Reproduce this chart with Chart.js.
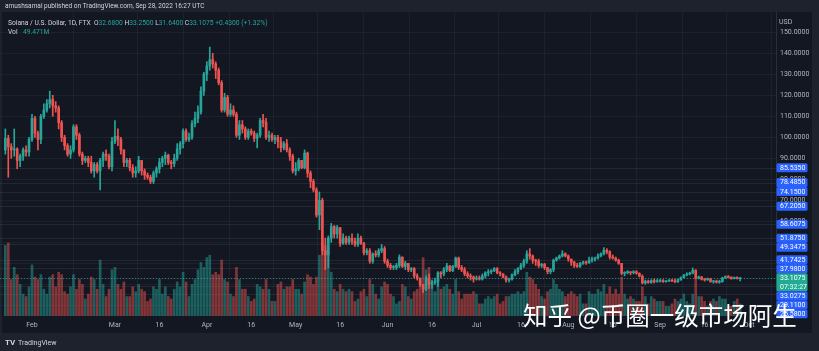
<!DOCTYPE html>
<html>
<head>
<meta charset="utf-8">
<script src="https://cdn.jsdelivr.net/npm/chart.js@4.4.1/dist/chart.umd.min.js"></script>
<style>
  html, body { margin: 0; padding: 0; background: #1e222d; }
  canvas { display: block; }
</style>
</head>
<body>
<canvas id="chart" width="819" height="351"></canvas>
<script>
// SOL/USD daily candles, FTX, 2022-01-23 .. 2022-09-28
const startDate = "2022-01-23";
const firstOpen = 94;
// crypto trades 24/7 so each day opens at the previous close
const closes = [
  99.5, 95.5, 94, 94.5, 89, 91, 94, 93, 99,
  109, 102, 99, 110, 113, 116, 118, 115, 114, 107, 100, 96, 92, 94, 105, 101, 92, 89, 90, 88, 84, 87, 84, 89, 92, 91, 86, 98,
  100.5, 99, 94, 88, 89, 85.5, 83, 84, 89, 84, 82, 81, 79, 83, 85, 88, 90, 91.5, 88, 87.5, 90, 94.5, 97, 103, 99, 100, 106.5, 109, 112, 122, 130,
  134, 137, 135, 132, 126, 113, 119, 111, 113, 111, 101, 106, 104, 100, 103, 102, 99.5, 101, 108, 107, 100, 101, 99, 100, 98, 95, 97, 94, 91, 84,
  85, 89, 85.5, 92.5, 83, 79, 75, 63, 70, 46, 44, 52, 57.5, 54, 57, 49.5, 52, 50, 52, 50.5, 49, 52, 49.5, 45, 46, 41, 44.5, 44, 46, 47, 41,
  39, 38, 38, 39, 43, 38.5, 40, 37, 37.5, 34, 33, 30, 27.6, 33, 30, 31, 31.5, 35.5, 35, 37, 38.7, 36.5, 38.5, 42.5, 38, 37, 35, 34, 33.5, 32.5,
  33, 32.5, 34, 35.5, 36, 36.5, 37.5, 35.5, 35, 33.5, 32, 32.5, 34.5, 36, 37.5, 39, 41, 44.5, 43.5, 41.5, 41, 39, 39.5, 38, 36, 37, 41.5, 42.5, 43.5, 44.5, 43.5,
  42, 40.5, 39, 38.5, 40, 40.5, 40.2, 41.5, 42, 42.5, 43.5, 44.5, 46.2, 45.5, 43, 42.5, 41.5, 40, 35.2, 35.5, 36, 35.5, 36, 35.2, 33.8, 30.6, 31.5, 30.8, 31.8, 31.2, 31.6,
  31.8, 31.2, 31.5, 32, 31.6, 31.2, 32.2, 33.2, 34.4, 34.8, 35.3, 36.7, 32.9, 33.4, 32.4, 32.1, 32.6, 31.2, 31.5, 31, 31.2, 33, 33.7, 33.3, 32.9, 33.2, 32.68, 33.1075
];
const highs = [
  104, 101, 97, 104, 95, 92, 95, 96, 100,
  111, 110, 103, 111, 116, 118, 122, 120, 117, 115, 108, 101, 97, 96, 106, 106, 102, 93, 91, 91, 91, 88, 88, 90, 93, 94, 92, 100,
  108, 104, 100, 94, 90, 90, 87, 86, 91, 89, 85, 83, 82, 84, 86, 90, 91, 93, 92, 89, 92, 97, 98, 104, 104, 102, 108, 112, 115, 124, 131,
  136, 143, 140, 136, 133, 127, 121, 120, 116, 115, 112, 108, 108, 105, 104, 104, 103, 102, 109, 111, 109, 103, 102, 101, 101, 100, 98, 99, 95, 92,
  88, 90, 89, 94, 93, 84, 80, 76, 74, 71, 52, 53, 59, 58, 58, 57, 54, 53, 53, 54, 52, 54, 53, 50, 47, 47, 45, 46, 47, 49, 48,
  42, 40, 39, 40, 44, 43, 41, 40, 38, 38, 35, 33, 30, 34, 35, 32, 33, 36, 36, 38, 40, 39, 39, 43, 43, 39, 38, 36, 35, 34,
  34, 34, 35, 36, 37, 37, 38, 38, 36, 35, 34, 33, 35, 37, 38, 40, 42, 46, 47, 44, 42, 42, 40, 40, 38, 37.5, 42, 43, 44, 46, 45,
  44, 42, 41, 40, 40.5, 41, 41, 43, 43, 43, 44.5, 45, 47.5, 47, 46, 44, 43, 42, 40, 36, 36.5, 36, 36.5, 36.5, 35.5, 34.5, 32, 32, 32.2, 32.5, 32.3,
  32.2, 32.3, 31.8, 32.3, 32.2, 32.5, 32.5, 33.5, 34.8, 35.5, 35.8, 37.8, 37, 34, 33.8, 32.8, 33, 32.8, 31.8, 32, 32, 33.4, 34, 34.2, 33.6, 33.4, 33.6, 33.25
];
const lows = [
  92, 81, 90, 91, 85, 86, 89, 91, 91,
  98, 100, 94, 97, 109, 112, 114, 110, 112, 104, 98, 94, 91, 90, 93, 99, 91, 87, 88, 86, 83, 81, 83, 75, 86, 89, 85, 84,
  97, 96, 92, 86, 86, 84, 81, 81, 83, 82, 80, 80, 78, 78, 81, 83, 86, 87, 87, 85, 86, 89, 92, 95, 98, 98, 99, 105, 107, 111, 120,
  127, 132, 133, 128, 125, 112, 112, 110, 110, 110, 100, 99, 102, 99, 99, 101, 98, 95, 100, 105, 99, 98, 98, 97, 95, 93, 94, 93, 89, 83,
  82, 84, 85, 85, 81, 76, 74, 62, 56, 44, 37, 38, 50, 52, 52, 48, 49, 49, 49, 49, 48, 48, 49, 44, 44, 40, 40, 43, 43, 45, 40,
  38, 37, 37, 37, 38, 38, 37, 36, 36, 33, 32, 29, 26, 27, 28, 28, 30, 29, 33, 34, 36, 36, 36, 38, 37, 36, 34, 33, 32, 31,
  32, 32, 32, 33, 34, 35, 36, 35, 34, 33, 31, 31, 32, 34, 35, 37, 38, 40, 42, 40, 39, 38, 38, 37, 35, 35, 36, 41, 42, 43, 43,
  41, 39, 38, 38, 38, 39.5, 39.5, 40, 40.5, 41, 42, 43, 44, 44.5, 42, 42, 41, 39.5, 34.5, 34, 35, 34.5, 35, 34.8, 33.5, 30.2, 30, 30.5, 30.5, 30.6, 31,
  31, 30.9, 31, 31.2, 31.2, 30.8, 30.9, 31.8, 33, 34, 34.5, 35, 32.5, 32.5, 32, 31.5, 31.9, 31, 30.5, 30.6, 30.5, 31, 32.8, 33, 32.4, 32.5, 32.5, 31.64
];
// volume, millions
const volumes = [
  290, 300, 150, 200, 170, 130, 90, 80, 120,
  210, 160, 150, 170, 110, 90, 160, 170, 120, 180, 170, 100, 90, 120, 170, 110, 150, 130, 70, 90, 160, 150, 110, 230, 130, 80, 110, 190,
  200, 130, 110, 140, 80, 80, 120, 100, 130, 110, 100, 60, 70, 120, 110, 150, 90, 120, 80, 70, 110, 140, 120, 180, 140, 80, 130, 150, 190, 220, 200,
  240, 250, 170, 180, 170, 230, 150, 140, 90, 80, 200, 150, 110, 110, 80, 60, 70, 130, 120, 110, 150, 110, 60, 60, 130, 140, 110, 120, 120, 150,
  110, 110, 90, 140, 170, 160, 130, 160, 250, 300, 290, 280, 180, 110, 100, 130, 110, 100, 110, 100, 60, 70, 100, 110, 80, 150, 130, 90, 70, 120, 140,
  130, 90, 80, 50, 60, 130, 120, 80, 70, 100, 110, 150, 240, 190, 200, 130, 100, 150, 110, 120, 130, 110, 90, 150, 100, 70, 90, 90, 90, 100,
  90, 50, 50, 70, 80, 70, 80, 90, 50, 60, 80, 80, 90, 90, 100, 90, 100, 180, 160, 150, 130, 110, 80, 70, 100, 110, 150, 130, 110, 100, 80,
  90, 100, 90, 80, 90, 50, 50, 100, 90, 90, 110, 100, 130, 90, 120, 90, 110, 90, 160, 90, 70, 80, 70, 60, 60, 120, 80, 50, 80, 70, 60,
  60, 60, 40, 40, 50, 70, 60, 70, 90, 60, 50, 90, 150, 80, 80, 60, 40, 60, 70, 60, 80, 70, 70, 40, 40, 60, 70, 49.471
];

const tickDates = ["2022-02-01", "2022-03-01", "2022-03-16", "2022-04-01", "2022-04-16", "2022-05-01", "2022-05-16",
  "2022-06-01", "2022-06-16", "2022-07-01", "2022-07-16", "2022-08-01", "2022-08-16", "2022-09-01", "2022-09-16", "2022-10-01"];
const tickLabels = ["Feb", "Mar", "16", "Apr", "16", "May", "16", "Jun", "16", "Jul", "16", "Aug", "16", "Sep", "16", "Oct"];
const priceTicks = [150, 140, 130, 120, 110, 100, 90, 80, 70, 60, 50, 40, 30, 20];
// horizontal levels drawn by the author
const levels = [85.535, 78.485, 74.15, 67.205, 58.6075, 51.875, 49.3475, 41.7425, 37.98, 33.0275, 29.11, 25.58];
const lastPrice = 33.1075;
const lastChange = "+0.4300 (+1.32%)";
const countdown = "07:32:27";

const UP = "#26a69a", DOWN = "#ef5350";
const UP_VOL = "rgba(38,166,154,0.5)", DOWN_VOL = "rgba(239,83,80,0.5)";

const dayNum = s => Date.parse(s + "T00:00:00Z") / 86400000;
const feb1 = dayNum("2022-02-01");
const first = dayNum(startDate) - feb1;
const tickDays = tickDates.map(d => dayNum(d) - feb1);

const opens = closes.map((c, i) => i ? closes[i - 1] : firstOpen);
const isUp = closes.map((c, i) => c >= opens[i]);

const wickData = closes.map((c, i) => ({ x: first + i, y: [lows[i], highs[i]] }));
const bodyData = closes.map((c, i) => ({ x: first + i, y: [opens[i], c] }));
const volData = volumes.map((v, i) => ({ x: first + i, y: v }));
const colors = isUp.map(u => u ? UP : DOWN);
const volColors = isUp.map(u => u ? UP_VOL : DOWN_VOL);

const FONT = "Roboto, 'Noto Sans', sans-serif";

function box(ctx, x, y, w, h, fill) {
  ctx.fillStyle = fill;
  ctx.beginPath();
  ctx.roundRect(x, y, w, h, 1.5);
  ctx.fill();
}

const chrome = {
  id: "chrome",
  beforeDraw(chart) {
    const { ctx } = chart;
    ctx.save();
    ctx.fillStyle = "#1e222d";
    ctx.fillRect(0, 0, 819, 351);
    ctx.fillStyle = "#131722";
    ctx.fillRect(2, 12, 810, 321);
    ctx.restore();
  },
  beforeDatasetsDraw(chart) {
    const { ctx, chartArea: a, scales: { y } } = chart;
    ctx.save();
    ctx.lineWidth = 1;
    ctx.strokeStyle = "rgba(120,123,134,0.16)";
    levels.forEach(p => {
      const py = Math.round(y.getPixelForValue(p)) + 0.5;
      ctx.beginPath();
      ctx.moveTo(a.left, py);
      ctx.lineTo(a.right, py);
      ctx.stroke();
    });
    ctx.restore();
  },
  afterDraw(chart) {
    const { ctx, chartArea: a, scales: { y } } = chart;
    ctx.save();
    // last price dotted line
    const ly = Math.round(y.getPixelForValue(lastPrice)) + 0.5;
    ctx.strokeStyle = "rgba(38,166,154,0.7)";
    ctx.setLineDash([1, 2]);
    ctx.beginPath();
    ctx.moveTo(a.left, ly);
    ctx.lineTo(a.right, ly);
    ctx.stroke();
    ctx.setLineDash([]);

    // price labels on the axis, stacked so they do not overlap
    const items = levels.map(p => ({ p, h: 9, text: [p.toFixed(4)], color: "#2962ff" }));
    items.push({ p: lastPrice, h: 18, text: [lastPrice.toFixed(4), countdown], color: "#22ab94", last: true });
    items.forEach(it => it.top = y.getPixelForValue(it.p) - 4.5);
    items.sort((m, n) => m.top - n.top || (n.last ? 1 : -1));
    let bottom = -Infinity;
    items.forEach(it => {
      if (it.top < bottom) it.top = bottom;
      bottom = it.top + it.h;
    });
    ctx.font = "7px " + FONT;
    ctx.textBaseline = "middle";
    ctx.textAlign = "left";
    items.forEach(it => {
      box(ctx, a.right + 0.5, it.top, 31, it.h, it.color);
      ctx.fillStyle = "#ffffff";
      it.text.forEach((t, k) => ctx.fillText(t, a.right + 4, it.top + 4.7 + k * 9));
    });

    // currency
    ctx.fillStyle = "#b2b5be";
    ctx.fillText("USD", a.right + 3, 22);

    // header
    ctx.fillStyle = "#d1d4dc";
    ctx.font = "6.5px " + FONT;
    ctx.fillText("amushsamal published on TradingView.com, Sep 28, 2022 16:27 UTC", 5, 6);

    // legend
    let x = 8;
    const seg = (t, c) => { ctx.fillStyle = c; ctx.fillText(t, x, 23); x += ctx.measureText(t).width; };
    ctx.font = "6.7px " + FONT;
    seg("Solana / U.S. Dollar, 1D, FTX  ", "#d1d4dc");
    const n = closes.length - 1;
    const vals = [["O", opens[n]], ["H", highs[n]], ["L", lows[n]], ["C", closes[n]]];
    vals.forEach(([k, v]) => { seg(k, "#d1d4dc"); seg(v.toFixed(4) + " ", UP); });
    seg(lastChange, UP);
    ctx.fillStyle = "#d1d4dc";
    ctx.fillText("Vol", 8, 32);
    ctx.fillStyle = UP;
    ctx.fillText(volumes[n].toFixed(3) + "M", 23, 32);

    // footer logo
    ctx.fillStyle = "#d1d4dc";
    ctx.font = "bold 8px " + FONT;
    ctx.fillText("TV", 5, 343);
    ctx.font = "7px " + FONT;
    ctx.fillText("TradingView", 18, 343);

    // watermark
    ctx.fillStyle = "#ffffff";
    ctx.font = "24.5px 'Noto Sans CJK SC'";
    ctx.textBaseline = "middle";
    ctx.fillText("知乎 @币圈一级市场阿生", 523, 316);
    ctx.restore();
  }
};

new Chart(document.getElementById("chart"), {
  type: "bar",
  data: {
    datasets: [
      { data: bodyData, backgroundColor: colors, barThickness: 2, minBarLength: 1, grouped: false, order: 1 },
      { data: wickData, backgroundColor: colors, barThickness: 1, grouped: false, order: 2 },
      { data: volData, backgroundColor: volColors, barThickness: 2, grouped: false, order: 3, yAxisID: "yv" }
    ]
  },
  options: {
    responsive: false,
    animation: false,
    layout: { padding: { top: 12, left: 0, right: 7, bottom: 18 } },
    plugins: { legend: { display: false }, tooltip: { enabled: false } },
    scales: {
      x: {
        type: "linear",
        min: -10.8,
        max: 251.1,
        offset: false,
        afterBuildTicks: s => { s.ticks = tickDays.map(v => ({ value: v })); },
        afterFit: s => { s.height = 17; },
        ticks: {
          autoSkip: false, maxRotation: 0, padding: 5,
          color: "#b2b5be", font: { size: 7, family: FONT },
          callback: v => tickLabels[tickDays.indexOf(v)]
        },
        grid: { color: "rgba(42,46,57,0.45)", drawTicks: false },
        border: { display: false }
      },
      y: {
        position: "right",
        min: 14.9,
        max: 159.7,
        afterBuildTicks: s => { s.ticks = priceTicks.map(v => ({ value: v })); },
        afterFit: s => { s.width = 36; },
        ticks: {
          padding: 4, color: "#b2b5be", font: { size: 7, family: FONT },
          callback: v => v.toFixed(4)
        },
        grid: { color: "rgba(42,46,57,0.45)", drawTicks: false },
        border: { color: "#2a2e39" }
      },
      yv: { display: false, min: 0, max: 1250 }
    }
  },
  plugins: [chrome]
});
</script>
</body>
</html>
